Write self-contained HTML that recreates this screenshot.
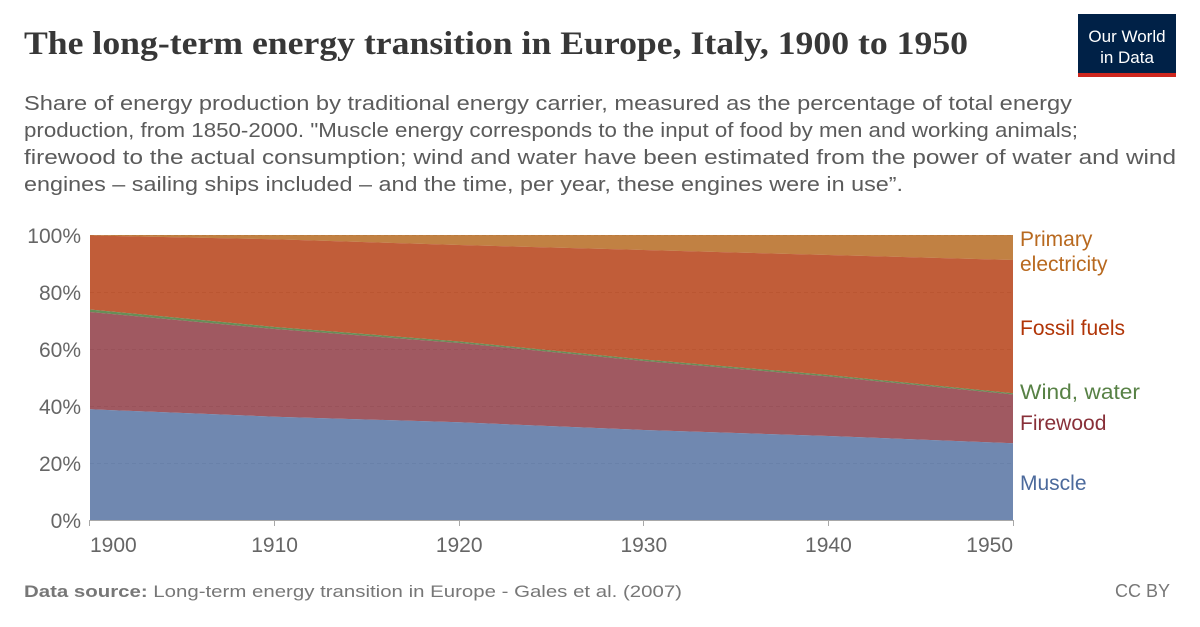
<!DOCTYPE html>
<html>
<head>
<meta charset="utf-8">
<style>
  html, body { margin: 0; padding: 0; background: #fff; }
  body { width: 1200px; height: 627px; overflow: hidden; }
  svg { display: block; }
  .sans { font-family: "Liberation Sans", sans-serif; }
  .serif { font-family: "Liberation Serif", serif; }
</style>
</head>
<body>
<svg width="1200" height="627" viewBox="0 0 1200 627" xmlns="http://www.w3.org/2000/svg">
  <rect width="1200" height="627" fill="#fff"/>

  <!-- Title -->
  <text class="serif" x="24" y="54" style="font-family:'Liberation Serif',serif;font-size:33px;font-weight:bold" fill="#373737" textLength="944" lengthAdjust="spacingAndGlyphs">The long-term energy transition in Europe, Italy, 1900 to 1950</text>

  <!-- Subtitle -->
  <g class="sans" font-size="20" fill="#5b5b5b">
    <text x="24" y="110" textLength="1048" lengthAdjust="spacingAndGlyphs">Share of energy production by traditional energy carrier, measured as the percentage of total energy</text>
    <text x="24" y="137" textLength="1054" lengthAdjust="spacingAndGlyphs">production, from 1850-2000. "Muscle energy corresponds to the input of food by men and working animals;</text>
    <text x="24" y="164" textLength="1152" lengthAdjust="spacingAndGlyphs">firewood to the actual consumption; wind and water have been estimated from the power of water and wind</text>
    <text x="24" y="191" textLength="879" lengthAdjust="spacingAndGlyphs">engines – sailing ships included – and the time, per year, these engines were in use”.</text>
  </g>

  <!-- Logo -->
  <rect x="1078" y="14" width="98" height="63" fill="#002147"/>
  <rect x="1078" y="73" width="98" height="4" fill="#ce261e"/>
  <text class="sans" x="1127" y="42" font-size="17" fill="#fff" text-anchor="middle">Our World</text>
  <text class="sans" x="1127" y="63" font-size="17" fill="#fff" text-anchor="middle">in Data</text>

  <!-- Grid lines -->
  <g stroke="#dddddd" stroke-width="1" stroke-dasharray="4,3">
    <line x1="90" y1="235.5" x2="1013" y2="235.5"/>
    <line x1="90" y1="292.5" x2="1013" y2="292.5"/>
    <line x1="90" y1="349.5" x2="1013" y2="349.5"/>
    <line x1="90" y1="406.5" x2="1013" y2="406.5"/>
    <line x1="90" y1="463.5" x2="1013" y2="463.5"/>
  </g>

  <!-- Areas -->
  <polygon fill="#b16214" fill-opacity="0.8" points="90,235 1013,235 1013,260 828.4,255 643.8,250 459.2,245 274.6,239.3 90,235.5"/>
  <polygon fill="#b13507" fill-opacity="0.8" points="90,235.5 274.6,239.3 459.2,245 643.8,250 828.4,255 1013,260 1013,393.3 828.4,375 643.8,359.5 459.2,341.5 274.6,327 90,309.5"/>
  <polygon fill="#578145" fill-opacity="0.9" points="90,309.5 274.6,327 459.2,341.5 643.8,359.5 828.4,375 1013,393.3 1013,394.5 828.4,376.5 643.8,361 459.2,343 274.6,329 90,312"/>
  <polygon fill="#883039" fill-opacity="0.8" points="90,312 274.6,329 459.2,343 643.8,361 828.4,376.5 1013,394.5 1013,443.3 828.4,436 643.8,430 459.2,422.3 274.6,416.7 90,409.3"/>
  <polygon fill="#4c6a9c" fill-opacity="0.8" points="90,409.3 274.6,416.7 459.2,422.3 643.8,430 828.4,436 1013,443.3 1013,520 90,520"/>

  <!-- Axis -->
  <line x1="89.5" y1="520.5" x2="1013.5" y2="520.5" stroke="#a8a8a8" stroke-width="1"/>
  <g stroke="#a8a8a8" stroke-width="1">
    <line x1="89.5" y1="520" x2="89.5" y2="526"/>
    <line x1="274.5" y1="520" x2="274.5" y2="526"/>
    <line x1="459.5" y1="520" x2="459.5" y2="526"/>
    <line x1="643.5" y1="520" x2="643.5" y2="526"/>
    <line x1="828.5" y1="520" x2="828.5" y2="526"/>
    <line x1="1013.5" y1="520" x2="1013.5" y2="526"/>
  </g>

  <!-- Y labels -->
  <g class="sans" font-size="21" fill="#666" text-anchor="end">
    <text x="81" y="243">100%</text>
    <text x="81" y="300">80%</text>
    <text x="81" y="357">60%</text>
    <text x="81" y="414">40%</text>
    <text x="81" y="471">20%</text>
    <text x="81" y="528">0%</text>
  </g>

  <!-- X labels -->
  <g class="sans" font-size="21" fill="#666">
    <text x="90" y="552">1900</text>
    <text x="274.6" y="552" text-anchor="middle">1910</text>
    <text x="459.2" y="552" text-anchor="middle">1920</text>
    <text x="643.8" y="552" text-anchor="middle">1930</text>
    <text x="828.4" y="552" text-anchor="middle">1940</text>
    <text x="1013" y="552" text-anchor="end">1950</text>
  </g>

  <!-- Legend labels -->
  <g class="sans" font-size="21">
    <text x="1020" y="246" fill="#b8691f">Primary</text>
    <text x="1020" y="271" fill="#b8691f">electricity</text>
    <text x="1020" y="335" fill="#b13507">Fossil fuels</text>
    <text x="1020" y="399" fill="#578145" textLength="120" lengthAdjust="spacingAndGlyphs">Wind, water</text>
    <text x="1020" y="430" fill="#883039">Firewood</text>
    <text x="1020" y="490" fill="#4c6a9c">Muscle</text>
  </g>

  <!-- Footer -->
  <text class="sans" x="24" y="597" font-size="17" fill="#777" textLength="658" lengthAdjust="spacingAndGlyphs"><tspan font-weight="bold">Data source:</tspan> Long-term energy transition in Europe - Gales et al. (2007)</text>
  <text class="sans" x="1170" y="597" font-size="18" fill="#777" text-anchor="end">CC BY</text>
</svg>
</body>
</html>
